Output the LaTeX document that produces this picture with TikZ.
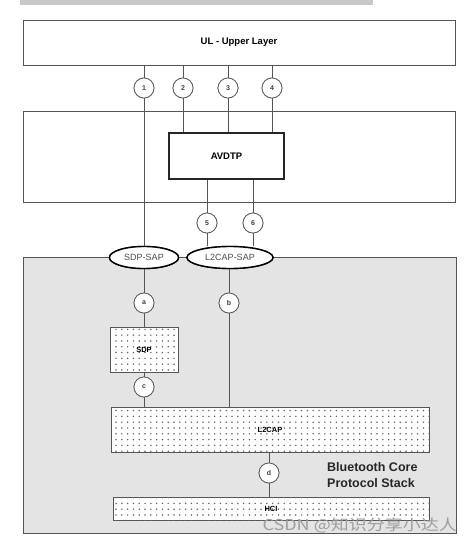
\documentclass[tikz,border=0pt]{standalone}
\usepackage{fontspec}
\setmainfont{Liberation Sans}
\newfontfamily\cjk{Noto Sans CJK SC}
\usetikzlibrary{shapes.geometric,patterns.meta}
\definecolor{ln}{HTML}{555555}
\definecolor{stackgray}{HTML}{E4E4E4}
\definecolor{barg}{HTML}{C8C8C8}
\tikzset{
  layer/.style={draw=ln, line width=0.9pt, fill=white, inner sep=0pt},
  avbox/.style={draw=black!85, line width=1.3pt, fill=white, inner sep=0pt, font=\bfseries\fontsize{9.5}{11}\selectfont},
  sap/.style={ellipse, draw=black, line width=1.4pt, fill=white, inner sep=0pt, font=\fontsize{9}{10}\selectfont, text=black!70},
  num/.style={circle, draw=ln, line width=0.7pt, fill=white, minimum size=20pt, inner sep=0pt, font=\bfseries\fontsize{7}{8}\selectfont, text=black!75},
  dotted box/.style={draw=ln, line width=0.9pt, fill=white, inner sep=0pt,
     postaction={pattern={Dots[distance=5.8pt, radius=0.85pt]}, pattern color=black!60},
     font=\bfseries\fontsize{7.5}{8}\selectfont},
  conn/.style={draw=ln, line width=0.9pt},
}
\begin{document}
\begin{tikzpicture}[x=1pt,y=-1pt]
\useasboundingbox (0,0) rectangle (474,544);
% top bar
\fill[barg] (20,0) rectangle (373,5);
% stack area
\node[draw=ln, line width=0.9pt, fill=stackgray, minimum width=433pt, minimum height=276pt, inner sep=0pt] (stack) at (239.5,395.5) {};
% UL box
\node[layer, minimum width=432pt, minimum height=45pt, font=\bfseries\fontsize{9.5}{11}\selectfont] (ul) at (239,42.5) {UL - Upper Layer};
% middle box
\node[layer, minimum width=432pt, minimum height=91pt] (mid) at (239,156.5) {};
% AVDTP
\node[avbox, minimum width=115pt, minimum height=46pt] (avdtp) at (226.5,156) {AVDTP};
% circles 1-4
\node[num] (c1) at (144,88) {1};
\node[num] (c2) at (183,88) {2};
\node[num] (c3) at (228,88) {3};
\node[num] (c4) at (272,88) {4};
% circles 5,6
\node[num] (c5) at (207,223) {5};
\node[num] (c6) at (253,223) {6};
% SAPs
\node[sap, minimum width=69pt, minimum height=22pt] (sdpsap) at (144,257.5) {SDP-SAP};
\node[sap, minimum width=86pt, minimum height=22pt] (l2sap) at (230,257.5) {L2CAP-SAP};
% circles a,b,c,d
\node[num] (ca) at (144,303) {a};
\node[num] (cb) at (229,303) {b};
\node[num] (cc) at (144,387) {c};
\node[num] (cd) at (269,473) {d};
% dotted boxes
\node[dotted box, minimum width=68pt, minimum height=45pt] (sdp) at (144,349.5) {SDP};
\node[dotted box, minimum width=318pt, minimum height=45pt] (l2cap) at (270,429.5) {L2CAP};
\node[dotted box, minimum width=316pt, minimum height=23pt] (hci) at (271,508.5) {HCI};
% label
\node[align=left, font=\bfseries\fontsize{12.5}{16}\selectfont, anchor=west, inner sep=0pt, text=black!85] (bt) at (327,475) {Bluetooth Core\\Protocol Stack};
% connectors
\draw[conn] (c1 |- ul.south) -- (c1);
\draw[conn] (c2 |- ul.south) -- (c2);
\draw[conn] (c3 |- ul.south) -- (c3);
\draw[conn] (c4 |- ul.south) -- (c4);
\draw[conn] (c2) -- (c2 |- avdtp.north);
\draw[conn] (c3) -- (c3 |- avdtp.north);
\draw[conn] (c4) -- (c4 |- avdtp.north);
\draw[conn] (c1) -- (sdpsap.north);
\draw[conn] (c5 |- avdtp.south) -- (c5);
\draw[conn] (c6 |- avdtp.south) -- (c6);
\draw[conn] (c5) -- (c5 |- l2sap.north);
\draw[conn] (c6) -- (c6 |- l2sap.north);
\draw[conn] (sdpsap.south) -- (ca);
\draw[conn] (ca) -- (sdp.north);
\draw[conn] (sdp.south) -- (cc);
\draw[conn] (cc) -- (cc |- l2cap.north);
\draw[conn] (cb |- l2sap.south) -- (cb);
\draw[conn] (cb) -- (cb |- l2cap.north);
\draw[conn] (cd |- l2cap.south) -- (cd);
\draw[conn] (cd) -- (cd |- hci.north);
% redraw circles and SAPs over lines
\foreach \n/\t in {c1/1,c2/2,c3/3,c4/4,c5/5,c6/6,ca/a,cb/b,cc/c,cd/d}{\node[num] at (\n) {\t};}
\node[sap, minimum width=69pt, minimum height=22pt] at (sdpsap) {SDP-SAP};
\node[sap, minimum width=86pt, minimum height=22pt] at (l2sap) {L2CAP-SAP};
% watermark
\node[anchor=east, text=black!38, font=\cjk\fontsize{15}{16}\selectfont, inner sep=0pt] (wm) at (457,525) {\scalebox{1.2}[1]{CSDN @知识分享小达人}};
\end{tikzpicture}
\end{document}
